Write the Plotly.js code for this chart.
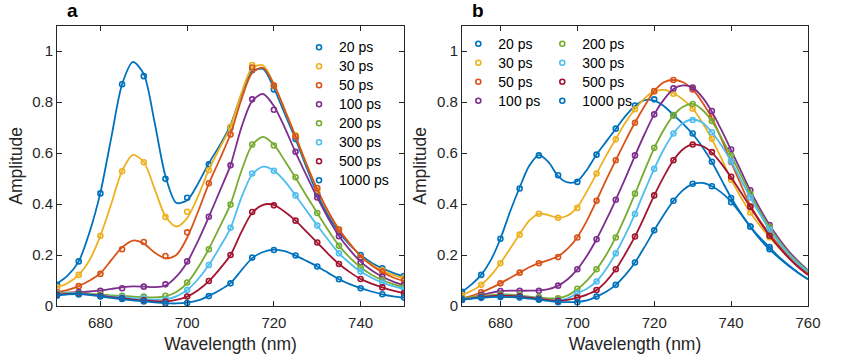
<!DOCTYPE html>
<html>
<head>
<meta charset="utf-8">
<script src="https://cdn.plot.ly/plotly-3.0.1.min.js"></script>
<style>html,body{margin:0;padding:0;background:#fff;}#chart{width:850px;height:356px;}</style>
</head>
<body>
<div id="chart"></div>
<script>
// ---- data ----
const seriesLabels = ['20 ps','30 ps','50 ps','100 ps','200 ps','300 ps','500 ps','1000 ps'];
const seriesColors = ['#0072BD','#EDB120','#D95319','#7E2F8E','#77AC30','#4DBEEE','#A2142F','#0072BD'];

const wlMark = [670,675,680,685,690,695,700,705,710,715,720,725,730,735,740,745,750];
const wlLineA = [670,672.5,675,677.5,680,682.5,685,687.5,690,692.5,695,697.5,700,702.5,705,707.5,710,712.5,715,717.5,720,722.5,725,727.5,730,732.5,735,737.5,740,742.5,745,747.5,750];
const wlLineB = [670,672.5,675,677.5,680,682.5,685,687.5,690,692.5,695,697.5,700,702.5,705,707.5,710,712.5,715,717.5,720,722.5,725,727.5,730,732.5,735,737.5,740,742.5,745,747.5,750,752.5,755,757.5,760];

// panel a: measured points
const a20m  = [0.083,0.175,0.442,0.870,0.902,0.499,0.425,0.556,0.700,0.925,0.850,0.655,0.440,0.290,0.200,0.148,0.118];
const a30m  = [0.073,0.122,0.276,0.529,0.564,0.349,0.370,0.533,0.703,0.946,0.865,0.670,0.455,0.300,0.190,0.140,0.110];
const a50m  = [0.055,0.078,0.126,0.223,0.251,0.196,0.289,0.482,0.673,0.936,0.865,0.665,0.463,0.300,0.190,0.135,0.100];
const a100m = [0.050,0.055,0.060,0.070,0.076,0.085,0.175,0.350,0.552,0.811,0.770,0.605,0.426,0.274,0.172,0.115,0.083];
const a200m = [0.050,0.050,0.045,0.040,0.037,0.040,0.092,0.223,0.398,0.634,0.630,0.505,0.365,0.236,0.151,0.102,0.073];
const a300m = [0.050,0.048,0.040,0.035,0.030,0.025,0.063,0.161,0.307,0.520,0.531,0.434,0.316,0.207,0.135,0.092,0.066];
const a500m = [0.045,0.048,0.040,0.030,0.022,0.018,0.037,0.098,0.200,0.369,0.395,0.335,0.249,0.165,0.106,0.073,0.050];
const a1000m= [0.040,0.045,0.037,0.028,0.018,0.010,0.012,0.039,0.089,0.190,0.220,0.198,0.155,0.105,0.070,0.046,0.033];

// panel a: fitted curves
const a20l  = [0.088,0.12,0.175,0.29,0.445,0.66,0.87,0.958,0.91,0.72,0.51,0.405,0.415,0.48,0.56,0.63,0.71,0.83,0.92,0.93,0.855,0.755,0.655,0.545,0.44,0.355,0.29,0.24,0.2,0.17,0.148,0.13,0.115];
const a30l  = [0.072,0.09,0.122,0.18,0.276,0.40,0.53,0.593,0.565,0.46,0.352,0.312,0.345,0.43,0.535,0.62,0.703,0.835,0.935,0.945,0.87,0.77,0.668,0.558,0.455,0.37,0.30,0.245,0.195,0.163,0.14,0.122,0.108];
const a50l  = [0.055,0.063,0.078,0.10,0.128,0.18,0.23,0.257,0.245,0.21,0.187,0.20,0.268,0.37,0.48,0.575,0.675,0.81,0.915,0.935,0.87,0.77,0.665,0.557,0.458,0.372,0.30,0.245,0.195,0.16,0.133,0.112,0.097];
const a100l = [0.05,0.052,0.054,0.057,0.061,0.067,0.073,0.077,0.076,0.074,0.08,0.115,0.172,0.255,0.35,0.45,0.553,0.70,0.805,0.832,0.785,0.70,0.603,0.513,0.426,0.345,0.275,0.22,0.174,0.14,0.115,0.096,0.082];
const a200l = [0.05,0.052,0.051,0.048,0.045,0.042,0.04,0.037,0.035,0.034,0.038,0.055,0.09,0.15,0.224,0.31,0.40,0.53,0.632,0.664,0.633,0.57,0.503,0.433,0.365,0.298,0.237,0.19,0.152,0.123,0.102,0.086,0.073];
const a300l = [0.048,0.05,0.049,0.046,0.042,0.038,0.035,0.031,0.028,0.025,0.026,0.038,0.063,0.105,0.161,0.23,0.306,0.425,0.517,0.547,0.532,0.49,0.434,0.375,0.316,0.26,0.207,0.168,0.135,0.111,0.092,0.078,0.066];
const a500l = [0.045,0.048,0.048,0.045,0.04,0.035,0.03,0.025,0.022,0.019,0.018,0.024,0.037,0.062,0.098,0.145,0.20,0.29,0.366,0.397,0.397,0.37,0.335,0.292,0.249,0.205,0.165,0.133,0.106,0.088,0.073,0.06,0.05];
const a1000l= [0.042,0.046,0.047,0.044,0.038,0.032,0.027,0.022,0.018,0.014,0.011,0.01,0.013,0.022,0.04,0.062,0.09,0.14,0.188,0.212,0.221,0.215,0.198,0.177,0.155,0.13,0.105,0.086,0.07,0.057,0.046,0.038,0.033];

// panel b: measured points
const b20m  = [0.056,0.122,0.264,0.461,0.591,0.513,0.487,0.594,0.696,0.787,0.811,0.749,0.677,0.566,0.424,0.312,0.223];
const b30m  = [0.043,0.083,0.168,0.280,0.362,0.346,0.385,0.520,0.654,0.772,0.841,0.833,0.774,0.656,0.495,0.367,0.270];
const b50m  = [0.030,0.054,0.089,0.131,0.168,0.192,0.269,0.413,0.572,0.719,0.844,0.887,0.850,0.740,0.565,0.390,0.285];
const b100m = [0.024,0.043,0.059,0.060,0.060,0.080,0.144,0.262,0.417,0.591,0.752,0.854,0.857,0.765,0.614,0.454,0.318];
const b200m = [0.030,0.038,0.045,0.045,0.035,0.030,0.068,0.144,0.269,0.441,0.621,0.748,0.793,0.726,0.590,0.440,0.310];
const b300m = [0.025,0.035,0.040,0.040,0.030,0.022,0.050,0.096,0.207,0.361,0.538,0.677,0.730,0.682,0.568,0.426,0.300];
const b500m = [0.025,0.035,0.040,0.038,0.028,0.020,0.033,0.063,0.144,0.273,0.434,0.572,0.634,0.604,0.507,0.390,0.276];
const b1000m= [0.025,0.032,0.035,0.033,0.025,0.015,0.015,0.037,0.083,0.171,0.297,0.413,0.480,0.470,0.407,0.312,0.231];

// panel b: fitted curves
const b20l  = [0.056,0.085,0.122,0.18,0.264,0.37,0.465,0.55,0.592,0.565,0.51,0.485,0.49,0.535,0.595,0.645,0.695,0.745,0.785,0.808,0.806,0.785,0.75,0.715,0.675,0.625,0.565,0.495,0.425,0.365,0.31,0.262,0.222,0.188,0.157,0.13,0.105];
const b30l  = [0.043,0.06,0.083,0.12,0.168,0.225,0.282,0.335,0.362,0.357,0.346,0.355,0.388,0.45,0.52,0.59,0.655,0.72,0.772,0.815,0.842,0.848,0.835,0.81,0.775,0.72,0.655,0.578,0.497,0.428,0.367,0.315,0.27,0.228,0.19,0.158,0.128];
const b50l  = [0.03,0.04,0.054,0.07,0.089,0.11,0.131,0.152,0.168,0.18,0.195,0.225,0.27,0.335,0.413,0.495,0.572,0.648,0.72,0.785,0.843,0.878,0.887,0.878,0.85,0.80,0.738,0.655,0.565,0.478,0.395,0.335,0.283,0.237,0.195,0.16,0.13];
const b100l = [0.024,0.033,0.043,0.052,0.058,0.06,0.06,0.06,0.061,0.066,0.08,0.105,0.144,0.197,0.262,0.337,0.417,0.502,0.59,0.675,0.752,0.81,0.852,0.866,0.857,0.82,0.763,0.69,0.612,0.532,0.453,0.382,0.318,0.263,0.215,0.175,0.14];
const b200l = [0.03,0.035,0.038,0.043,0.045,0.045,0.042,0.037,0.033,0.03,0.031,0.042,0.066,0.1,0.144,0.2,0.27,0.352,0.44,0.532,0.62,0.692,0.748,0.782,0.793,0.77,0.725,0.66,0.59,0.515,0.44,0.37,0.31,0.255,0.208,0.17,0.138];
const b300l = [0.025,0.03,0.035,0.039,0.041,0.041,0.038,0.034,0.029,0.024,0.022,0.03,0.05,0.068,0.097,0.145,0.207,0.28,0.362,0.452,0.538,0.615,0.677,0.718,0.732,0.72,0.682,0.63,0.568,0.497,0.426,0.36,0.30,0.248,0.203,0.165,0.135];
const b500l = [0.025,0.03,0.035,0.039,0.041,0.04,0.037,0.033,0.028,0.023,0.02,0.024,0.033,0.045,0.063,0.097,0.144,0.205,0.273,0.352,0.434,0.508,0.572,0.615,0.634,0.628,0.602,0.558,0.505,0.447,0.388,0.33,0.276,0.23,0.188,0.152,0.122];
const b1000l= [0.025,0.029,0.032,0.035,0.036,0.035,0.033,0.029,0.025,0.02,0.016,0.015,0.016,0.022,0.037,0.056,0.083,0.122,0.171,0.232,0.297,0.358,0.413,0.455,0.478,0.483,0.47,0.445,0.41,0.362,0.312,0.268,0.23,0.192,0.16,0.13,0.105];

const xTicksA = [680,700,720,740];
const xTicksB = [680,700,720,740,760];
const yTicks = [0,0.2,0.4,0.6,0.8,1];
const yTickText = ['0','0.2','0.4','0.6','0.8','1'];

// ---- build ----
const marksA = [a20m,a30m,a50m,a100m,a200m,a300m,a500m,a1000m];
const linesA = [a20l,a30l,a50l,a100l,a200l,a300l,a500l,a1000l];
const marksB = [b20m,b30m,b50m,b100m,b200m,b300m,b500m,b1000m];
const linesB = [b20l,b30l,b50l,b100l,b200l,b300l,b500l,b1000l];

const traces = [];
function addPanel(marks, lines, wlLine, xa, ya, legendFor) {
  for (let i = 0; i < seriesLabels.length; i++) {
    traces.push({
      x: wlLine, y: lines[i], xaxis: xa, yaxis: ya, type: 'scatter', mode: 'lines',
      line: {color: seriesColors[i], width: 1.8, shape: 'spline', smoothing: 0.8},
      showlegend: false, hoverinfo: 'skip'
    });
    traces.push({
      x: wlMark, y: marks[i], xaxis: xa, yaxis: ya, type: 'scatter', mode: 'markers',
      name: '<span style="font-size:14px">' + seriesLabels[i] + '</span>', legend: legendFor(i),
      marker: {symbol: 'circle-open', size: 5, color: seriesColors[i], line: {width: 1.6, color: seriesColors[i]}}
    });
  }
}
addPanel(marksA, linesA, wlLineA, 'x', 'y', () => 'legend');
addPanel(marksB, linesB, wlLineB, 'x2', 'y2', (i) => (i < 4 ? 'legend2' : 'legend3'));

const axColor = '#262626';
const tickFont = {family: 'Liberation Sans, Arial, sans-serif', size: 15, color: axColor};
const titleFont = {family: 'Liberation Sans, Arial, sans-serif', size: 17.5, color: axColor};
function xAxis(domain, range, ticks, anchor) {
  return {domain: domain, range: range, anchor: anchor, tickmode: 'array', tickvals: ticks,
    ticks: 'inside', ticklen: 5, tickwidth: 1, tickcolor: axColor, showline: true, linecolor: axColor,
    linewidth: 1, mirror: 'ticks', showgrid: false, zeroline: false, tickfont: tickFont, ticklabelstandoff: 3,
    title: {text: 'Wavelength (nm)', font: titleFont, standoff: 7}};
}
function yAxis(domain, anchor) {
  return {domain: domain, range: [0, 1.1], anchor: anchor, tickmode: 'array', tickvals: yTicks, ticktext: yTickText,
    ticks: 'inside', ticklen: 5, tickwidth: 1, tickcolor: axColor, showline: true, linecolor: axColor,
    linewidth: 1, mirror: 'ticks', showgrid: false, zeroline: false, tickfont: tickFont,
    title: {text: 'Amplitude', font: titleFont, standoff: 5}};
}
const yDom = [0.1404, 0.9278];
const legFont = {family: 'Liberation Sans, Arial, sans-serif', size: 12.3, color: '#000'};
const layout = {
  width: 850, height: 356,
  margin: {l: 0, r: 0, t: 0, b: 0, pad: 0},
  paper_bgcolor: '#fff', plot_bgcolor: '#fff',
  font: {family: 'Liberation Sans, Arial, sans-serif', color: axColor},
  xaxis: xAxis([0.0671, 0.4753], [670, 750], xTicksA, 'y'),
  yaxis: yAxis(yDom, 'x'),
  xaxis2: xAxis([0.5435, 0.9506], [670, 760], xTicksB, 'y2'),
  yaxis2: yAxis(yDom, 'x2'),
  legend: {x: 0.3518, y: 0.908, xanchor: 'left', yanchor: 'top', bgcolor: 'rgba(0,0,0,0)', font: legFont, tracegroupgap: 0},
  legend2: {x: 0.5392, y: 0.918, xanchor: 'left', yanchor: 'top', bgcolor: 'rgba(0,0,0,0)', font: legFont, tracegroupgap: 0},
  legend3: {x: 0.638, y: 0.918, xanchor: 'left', yanchor: 'top', bgcolor: 'rgba(0,0,0,0)', font: legFont, tracegroupgap: 0},
  annotations: [
    {text: '<b>a</b>', xref: 'paper', yref: 'paper', x: 65/850, y: 0.970, xanchor: 'left', yanchor: 'middle', showarrow: false,
     font: {family: 'Liberation Sans, Arial, sans-serif', size: 19, color: '#000'}},
    {text: '<b>b</b>', xref: 'paper', yref: 'paper', x: 470/850, y: 0.970, xanchor: 'left', yanchor: 'middle', showarrow: false,
     font: {family: 'Liberation Sans, Arial, sans-serif', size: 19, color: '#000'}}
  ],
  showlegend: true
};
Plotly.newPlot('chart', traces, layout, {staticPlot: true, displayModeBar: false});
</script>
</body>
</html>
